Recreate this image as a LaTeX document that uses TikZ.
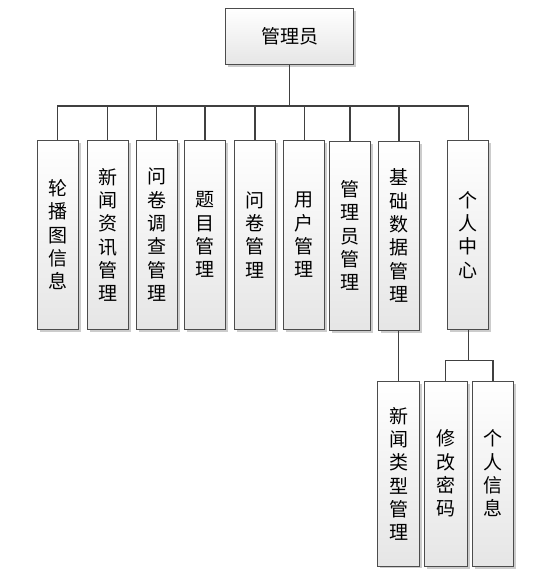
\documentclass[tikz,border=0pt]{standalone}
\usepackage{fontspec}
\newfontfamily\cjk{Noto Sans CJK SC}
\usetikzlibrary{shadows}
\tikzset{
  box/.style={rectangle, draw=black!70, line width=0.9pt, inner sep=0pt,
    top color=white, bottom color=black!10, align=center,
    font=\cjk\fontsize{19}{23.3}\selectfont,
    drop shadow={shadow xshift=2.5pt, shadow yshift=-2.5pt, fill=black!25, opacity=0.8}},
  vbox/.style={box, minimum width=41pt, minimum height=189pt},
  conn/.style={draw=black!75, line width=1.3pt}
}
\begin{document}
\begin{tikzpicture}[x=1pt,y=-1pt]
\useasboundingbox (0,0) rectangle (550,572);
\node[box, minimum width=128pt, minimum height=56.4pt] (top) at (289.7,36.5) {管理员};
\node[vbox] (b1) at (57.5,234.8) {轮\\播\\图\\信\\息};
\node[vbox] (b2) at (107.8,234.8) {新\\闻\\资\\讯\\管\\理};
\node[vbox] (b3) at (156.7,234.8) {问\\卷\\调\\查\\管\\理};
\node[vbox] (b4) at (205,234.8) {题\\目\\管\\理};
\node[vbox] (b5) at (255,234.8) {问\\卷\\管\\理};
\node[vbox] (b6) at (304.2,234.8) {用\\户\\管\\理};
\node[vbox] (b7) at (350,235.7) {管\\理\\员\\管\\理};
\node[vbox] (b8) at (399,235.7) {基\\础\\数\\据\\管\\理};
\node[vbox] (b9) at (468.3,234.8) {个\\人\\中\\心};
\node[box, minimum width=41.6pt, minimum height=184.3pt] (c1) at (398.5,473.8) {新\\闻\\类\\型\\管\\理};
\node[box, minimum width=42.7pt, minimum height=185pt] (c2) at (445.7,473.5) {修\\改\\密\\码};
\node[box, minimum width=41.4pt, minimum height=185pt] (c3) at (493,473.5) {个\\人\\信\\息};
\coordinate (bus) at (0,106);
\coordinate (sub) at (0,360.7);
\foreach \b in {b1,b2,b3,b4,b5,b6,b7,b8,b9}
  \draw[conn] (top.south) -- (top.south |- bus) -| (\b.north);
\draw[conn] (c1.north |- b8.south) -- (c1.north);
\draw[conn] (b9.south) -- (b9.south |- sub) -| (c2.north);
\draw[conn] (b9.south |- sub) -| (c3.north);
\end{tikzpicture}
\end{document}
